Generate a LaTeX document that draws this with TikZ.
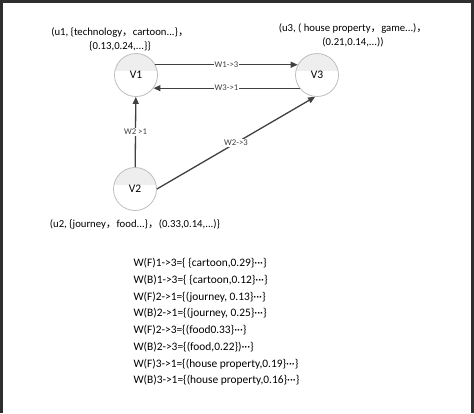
\documentclass[tikz,border=0pt]{standalone}
\usepackage{fontspec}
\setmainfont{Carlito}
\newfontfamily\cjk{Noto Sans CJK SC}
\usetikzlibrary{arrows.meta, positioning}
\definecolor{edgegrey}{HTML}{404040}
\definecolor{ringgrey}{HTML}{BDBDBD}
\definecolor{capgrey}{HTML}{EEEEEE}
\definecolor{framegrey}{HTML}{2E2E2E}
\newcommand{\fw}{{\cjk ，}}

\begin{document}
\begin{tikzpicture}[x=1pt, y=-1pt, font=\fontsize{10.7}{14}\selectfont,
  v/.style={circle, draw=ringgrey, thick, minimum size=43pt, inner sep=0pt,
            font=\fontsize{11.5}{13}\selectfont,
            path picture={\fill[capgrey] (path picture bounding box.north west)
              rectangle ([yshift=4pt]path picture bounding box.east);}},
  a/.style={-{Triangle[length=7pt, width=6pt]}, line width=1.3pt, edgegrey},
  w/.style={fill=white, inner sep=1pt, font=\fontsize{8.7}{10}\selectfont}]
\useasboundingbox (0,0) rectangle (474,413);
% frame of the scan
\fill[framegrey] (0,0) rectangle (474,2.5);
\fill[framegrey] (0,0) rectangle (2.5,413);
\fill[framegrey] (471,0) rectangle (474,413);
% users
\node[v] (v1) at (136,75) {V1};
\node[v] (v3) at (317,75) {V3};
\node[v] (v2) at (135,189) {V2};
\node[align=center] (t1) at (120,39) {(u1, \{technology\fw cartoon...\}\fw\\\{0.13,0.24,...\}\}};
\node[align=center] (t3) at (353,35) {(u3, ( house property\fw game...)\fw\\(0.21,0.14,...))};
\node (t2) at (135,224) {(u2, \{journey\fw food...\}\fw (0.33,0.14,...)\}};
% weights
\draw[a] (v1.28) -- node[w] {W1->3} (v3.152);
\draw[a] (v3.217) -- node[w] {W3->1} (v1.323);
\draw[a] (v2) -- node[w] {W2 >1} (v1);
\draw[a] (v2.east) -- node[w] {W2->3} (v3.265);
\node[align=left, anchor=north west, font=\fontsize{11.4}{16.7}\selectfont] (wl) at (130,255)
  {W(F)1->3=\{ \{cartoon,0.29\}···\}\\
   W(B)1->3=\{ \{cartoon,0.12\}···\}\\
   W(F)2->1=\{(journey, 0.13\}···\}\\
   W(B)2->1=\{(journey, 0.25\}···\}\\
   W(F)2->3=\{(food0.33\}···\}\\
   W(B)2->3=\{(food,0.22\})···\}\\
   W(F)3->1=\{(house property,0.19\}···\}\\
   W(B)3->1=\{(house property,0.16\}···\}};
\end{tikzpicture}
\end{document}
